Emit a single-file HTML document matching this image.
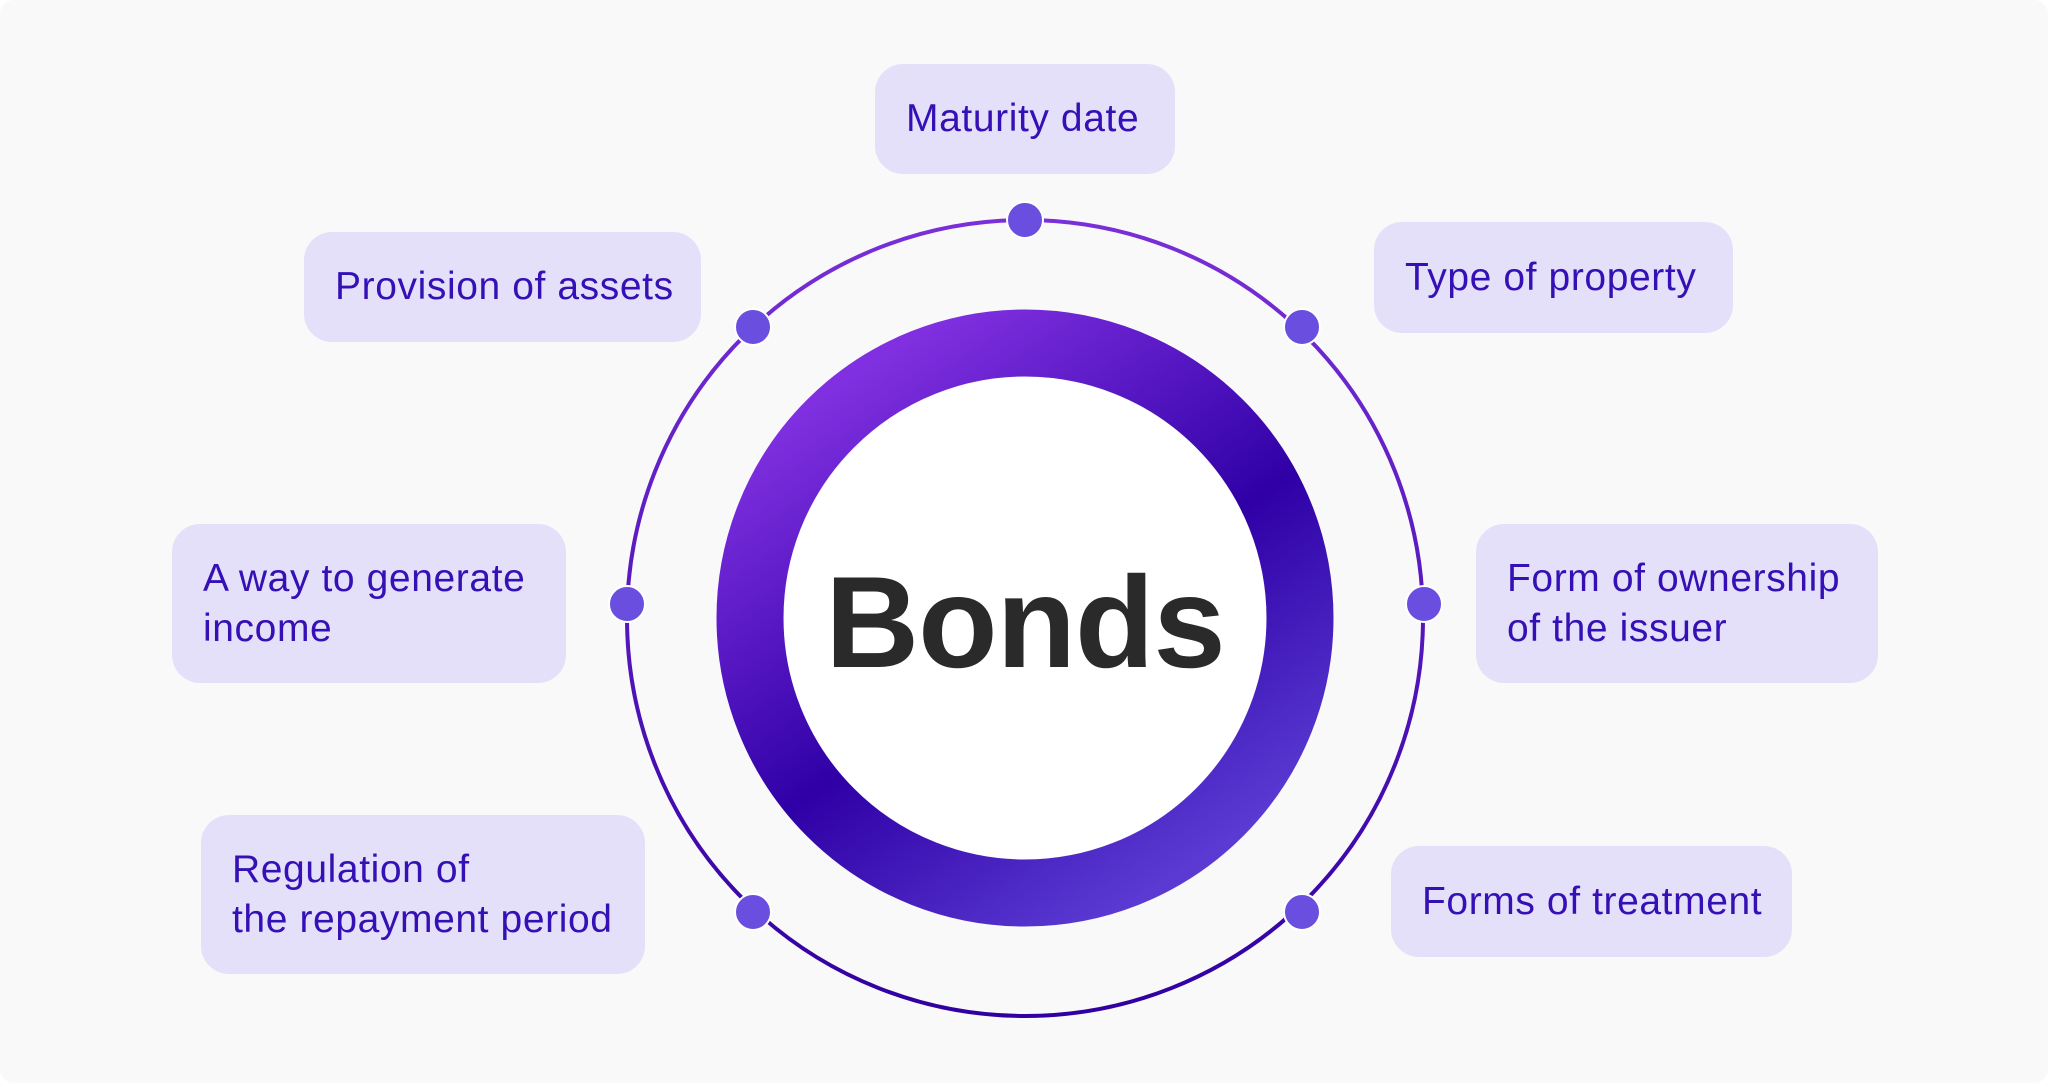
<!DOCTYPE html>
<html><head><meta charset="utf-8"><style>
html,body{margin:0;padding:0;width:2048px;height:1083px;overflow:hidden;background:#fff;font-family:"Liberation Sans",sans-serif}
.bg{position:absolute;left:0;top:0;width:2048px;height:1083px;background:#f9f9f9;border-radius:14px}
.b{position:absolute;background:#e5e0fa;border-radius:28px;color:#3410b5;font-size:39px;letter-spacing:0.6px;line-height:50px;box-sizing:border-box;padding-left:31px;display:flex;align-items:center;white-space:nowrap}
</style></head><body>
<div class="bg"></div>
<svg width="2048" height="1083" style="position:absolute;left:0;top:0">
<defs>
<linearGradient id="r" x1="0.2" y1="0.05" x2="0.8" y2="0.95">
<stop offset="0" stop-color="#8030e0"/><stop offset="0.55" stop-color="#2f00a6"/><stop offset="1" stop-color="#5a3ad2"/></linearGradient>
<linearGradient id="o" x1="0" y1="0" x2="0" y2="1">
<stop offset="0" stop-color="#7a2fd8"/><stop offset="1" stop-color="#3000a0"/></linearGradient>
</defs>
<circle cx="1025" cy="618" r="398" fill="none" stroke="url(#o)" stroke-width="4"/>
<circle cx="1025" cy="618" r="275" fill="none" stroke="url(#r)" stroke-width="67"/>
<circle cx="1025" cy="618" r="241" fill="#fff"/>
<g fill="#6a4ee0" stroke="#fff" stroke-width="2">
<circle cx="1025" cy="220" r="18"/><circle cx="753" cy="327" r="18"/><circle cx="1302" cy="327" r="18"/>
<circle cx="627" cy="604" r="18"/><circle cx="1424" cy="604" r="18"/>
<circle cx="753" cy="912" r="18"/><circle cx="1302" cy="912" r="18"/></g>
<text x="1025" y="667" text-anchor="middle" font-family="Liberation Sans" font-weight="bold" font-size="130" letter-spacing="-1" fill="#2a2a2a">Bonds</text>
</svg>
<div class="b" style="left:875px;top:64px;width:300px;height:110px">Maturity date</div>
<div class="b" style="left:304px;top:232px;width:397px;height:110px">Provision of assets</div>
<div class="b" style="left:1374px;top:222px;width:359px;height:111px">Type of property</div>
<div class="b" style="left:172px;top:524px;width:394px;height:159px">A way to generate<br>income</div>
<div class="b" style="left:1476px;top:524px;width:402px;height:159px">Form of ownership<br>of the issuer</div>
<div class="b" style="left:201px;top:815px;width:444px;height:159px">Regulation of<br>the repayment period</div>
<div class="b" style="left:1391px;top:846px;width:401px;height:111px">Forms of treatment</div>
</body></html>
